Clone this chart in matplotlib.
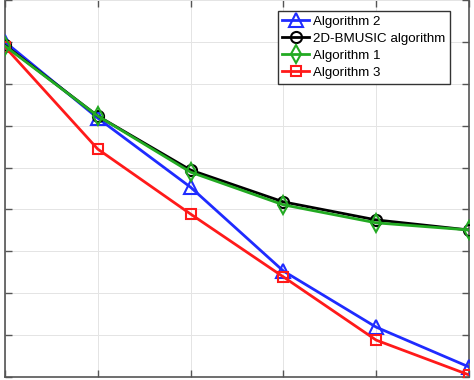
import matplotlib
matplotlib.use("Agg")
import matplotlib.pyplot as plt
import numpy as np

x = [0, 1, 2, 3, 4, 5]
alg2 = [8.00, 6.18, 4.53, 2.53, 1.19, 0.24]
bmusic = [7.92, 6.23, 4.94, 4.18, 3.75, 3.51]
alg1 = [7.90, 6.23, 4.89, 4.11, 3.68, 3.51]
alg3 = [7.88, 5.44, 3.89, 2.39, 0.88, 0.05]
labels = ["Algorithm 2", "2D-BMUSIC algorithm", "Algorithm 1", "Algorithm 3"]

plt.rcParams['font.family'] = ['Liberation Sans', 'DejaVu Sans']
fig = plt.figure(figsize=(4.74, 3.80), dpi=100)
ax = fig.add_axes([5/474, 3/380, 464/474, 377/380])

ax.plot(x, alg2, color='#1f2bff', lw=2, marker='^', ms=10, mfc='none', mew=1.5, label=labels[0], zorder=3)
ax.plot(x, bmusic, color='black', lw=2, marker='o', ms=8, mfc='none', mew=1.5, label=labels[1], zorder=3)
ax.plot(x, alg1, color='#22aa22', lw=2, marker='d', ms=9, mfc='none', mew=1.5, label=labels[2], zorder=4)
ax.plot(x, alg3, color='#ff1a1a', lw=2, marker='s', ms=7, mfc='none', mew=1.5, label=labels[3], zorder=3)

ax.set_xlim(0, 5)
ax.set_ylim(0, 9)
ax.set_xticks(np.arange(0, 6))
ax.set_yticks(np.arange(0, 10))
ax.grid(True, color='#e4e4e4', lw=0.7)
ax.set_axisbelow(True)
ax.tick_params(direction='in', length=5, width=1, color='#555555',
               top=True, right=True, labelleft=False, labelbottom=False)
for s in ax.spines.values():
    s.set_color('#555555')
    s.set_linewidth(1.2)
ax.spines['top'].set_visible(False)

leg = ax.legend(loc='upper right', bbox_to_anchor=((450-5)/464, (377-11)/377),
                borderaxespad=0, fontsize=9.6, handlelength=2.0, handletextpad=0.3,
                labelspacing=0.35, borderpad=0.35, fancybox=False, framealpha=1,
                edgecolor='#333333')
leg.get_frame().set_linewidth(1.0)

fig.savefig("out.png", dpi=100)
